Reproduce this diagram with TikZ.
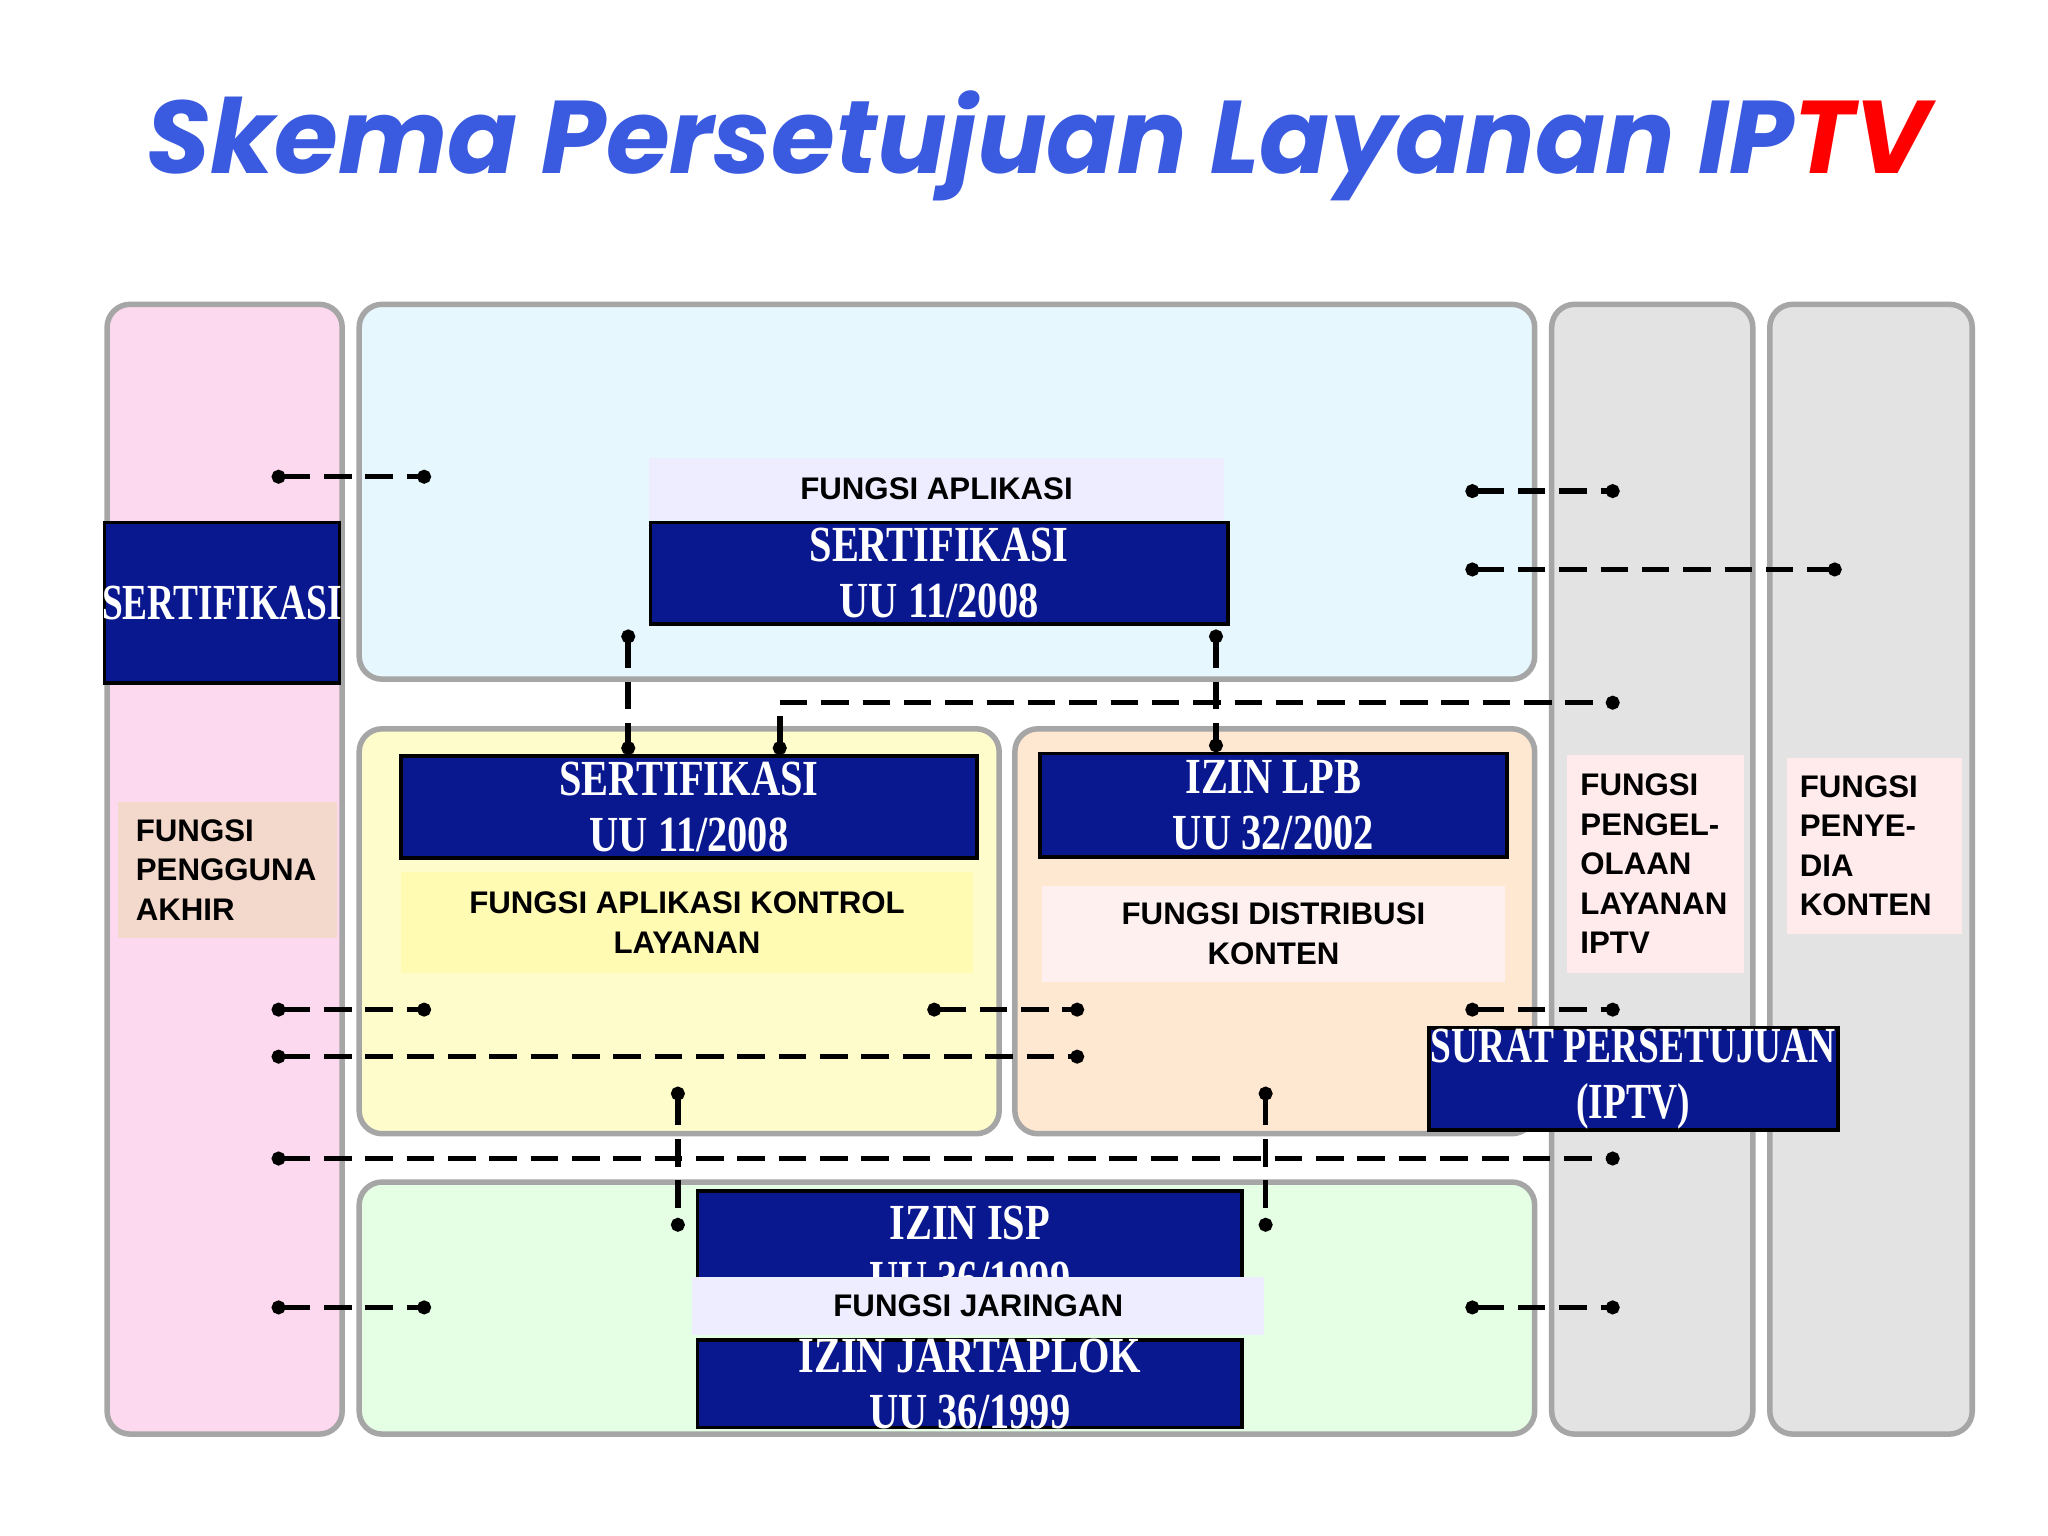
\documentclass[tikz,border=0pt]{standalone}
\usepackage{fontspec}
\setmainfont{Liberation Serif}
\newfontfamily\cond[FakeStretch=0.8]{Liberation Serif}
\newfontfamily\condb[FakeStretch=0.74]{Liberation Serif}
\newfontfamily\lab{Liberation Sans}
\newfontfamily\ttl{Poppins}
\usetikzlibrary{fit,arrows.meta}
\definecolor{navy}{HTML}{0A1890}
\definecolor{tblue}{HTML}{3A5BE0}
\begin{document}
\begin{tikzpicture}[x=0.01cm,y=-0.01cm,
  col/.style={draw=gray!70,line width=1.2pt,rounded corners=5pt,inner sep=0},
  nv/.style={fill=navy,draw=black,line width=0.8pt,inner sep=0},
  lb/.style={inner sep=0},
  nvt/.style={text=white,font=\cond\bfseries\fontsize{11}{12.2}\selectfont,align=center,inner sep=0},
  lbt/.style={font=\lab\bfseries\fontsize{6.8}{8.6}\selectfont,align=center,inner sep=0},
  conn/.style={dash pattern=on 6pt off 3pt,line width=1.2pt,{Circle[length=3pt]}-{Circle[length=3pt]}}]
\useasboundingbox (0,0) rectangle (1568,1176);
\fill[white] (0,0) rectangle (1568,1176);
% title
\node[font=\ttl\bfseries\itshape\fontsize{22.5}{25}\selectfont,text=tblue] (title) at (795,112) {Skema Persetujuan Layanan IP\textcolor{red}{TV}};
% columns
\node[col,fill=magenta!15,fit={(82,233) (262,1098)}] (pink) {};
\node[col,fill=cyan!10,fit={(275,233) (1175,520)}] (blue) {};
\node[col,fill=gray!22,fit={(1188,233) (1342,1098)}] (g1) {};
\node[col,fill=gray!22,fit={(1355,233) (1510,1098)}] (g2) {};
\node[col,fill=yellow!20,fit={(275,558) (765,868)}] (yel) {};
\node[col,fill=orange!18,fit={(777,558) (1175,868)}] (pch) {};
\node[col,fill=green!10,fit={(275,905) (1175,1098)}] (grn) {};
% label boxes
\node[lb,fill=blue!7,fit={(497,351) (937,398)}] (fa) {};
\node[lbt] at (fa.center) {FUNGSI APLIKASI};
\node[lb,fill=yellow!30,fit={(307,668) (745,745)}] (fak) {};
\node[lbt] at (fak.center) {FUNGSI APLIKASI KONTROL\\LAYANAN};
\node[lb,fill=red!6,fit={(798,678) (1152,752)}] (fdk) {};
\node[lbt] at (fdk.center) {FUNGSI DISTRIBUSI\\KONTEN};
\node[lb,fill=red!20!brown!25,fit={(90,614) (258,718)}] (fpa) {};
\node[lbt,align=left,anchor=west] at ([xshift=0.14cm]fpa.west) {FUNGSI\\PENGGUNA\\AKHIR};
\node[lb,fill=red!8,fit={(1200,578) (1335,745)}] (fpl) {};
\node[lbt,align=left,anchor=west] at ([xshift=0.1cm]fpl.west) {FUNGSI\\PENGEL-\\OLAAN\\LAYANAN\\IPTV};
\node[lb,fill=red!8,fit={(1368,580) (1502,715)}] (fpk) {};
\node[lbt,align=left,anchor=west] at ([xshift=0.1cm]fpk.west) {FUNGSI\\PENYE-\\DIA\\KONTEN};
% connectors
\draw[conn] (208,365) -- (330,365);
\draw[conn] (1122,376) -- (1240,376);
\draw[conn] (1122,436) -- (1410,436);
\draw[conn] (481,482) -- (481,578);
\draw[conn] (931,482) -- (931,576);
\draw[conn] (597,578) -- (597,538) -- (1240,538);
\draw[conn] (208,773) -- (330,773);
\draw[conn] (710,773) -- (830,773);
\draw[conn] (1122,773) -- (1240,773);
\draw[conn] (208,809) -- (830,809);
\draw[conn] (208,887) -- (1240,887);
\draw[conn] (519,832) -- (519,943);
\draw[conn] (969,832) -- (969,943);
\draw[conn] (208,1001) -- (330,1001);
\draw[conn] (1122,1001) -- (1240,1001);
% navy boxes
\node[nv,fit={(80,400) (260,523)}] (s1) {};
\node[nvt,font=\condb\bfseries\fontsize{11}{12.2}\selectfont] at (s1.center) {SERTIFIKASI};
\node[nv,fit={(498,400) (940,478)}] (s2) {};
\node[nvt] at (s2.center) {SERTIFIKASI\\UU 11/2008};
\node[nv,fit={(307,579) (748,657)}] (s3) {};
\node[nvt] at (s3.center) {SERTIFIKASI\\UU 11/2008};
\node[nv,fit={(796,577) (1154,656)}] (lpb) {};
\node[nvt] at (lpb.center) {IZIN LPB\\UU 32/2002};
\node[nv,fit={(1094,787) (1407,865)}] (sp) {};
\node[nvt,font=\condb\bfseries\fontsize{11}{12.2}\selectfont] at (sp.center) {SURAT PERSETUJUAN\\(IPTV)};
\node[nv,fit={(534,912) (951,985)}] (isp) {};
\begin{scope}
\clip (534,912) rectangle (951,978);
\node[nvt,anchor=north] at ([yshift=-0.12cm]isp.north) {IZIN ISP\\UU 36/1999};
\end{scope}
\node[nv,fit={(534,1026) (951,1093)}] (jar) {};
\node[nvt] at (jar.center) {IZIN JARTAPLOK\\UU 36/1999};
\node[lb,fill=blue!7,fit={(530,978) (968,1022)}] (fj) {};
\node[lbt] at (fj.center) {FUNGSI JARINGAN};
\end{tikzpicture}
\end{document}
